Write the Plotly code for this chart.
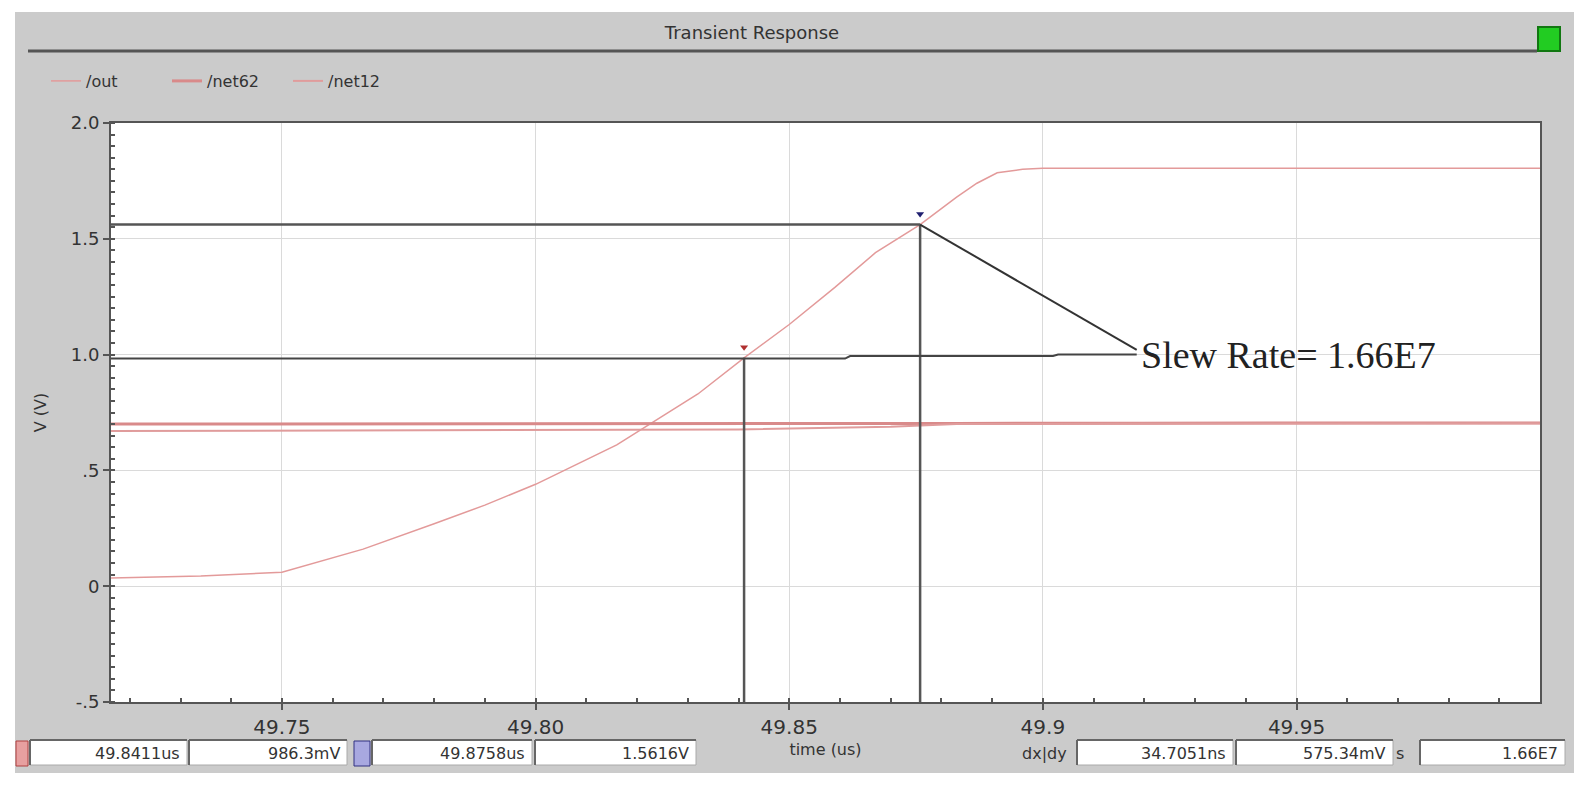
import plotly.graph_objects as go

# /out rising edge, time in us, volts
out_time = [49.7163, 49.734, 49.75, 49.766, 49.78, 49.79, 49.80, 49.816, 49.832,
            49.8411, 49.85, 49.859, 49.867, 49.8758, 49.883, 49.887, 49.891,
            49.896, 49.90, 49.95, 49.998]
out_volt = [0.035, 0.044, 0.06, 0.16, 0.27, 0.35, 0.44, 0.61, 0.83,
            0.986, 1.13, 1.29, 1.44, 1.5616, 1.68, 1.74, 1.785,
            1.80, 1.805, 1.805, 1.805]

# the two bias nodes, almost flat near 0.7 V
net_time = [49.7163, 49.78, 49.84, 49.87, 49.883, 49.92, 49.998]
net62_volt = [0.700, 0.700, 0.701, 0.702, 0.703, 0.704, 0.705]
net12_volt = [0.670, 0.672, 0.677, 0.688, 0.700, 0.702, 0.704]

# the two cursors (time us, volts)
cursor_time = [49.8411, 49.8758]
cursor_volt = [0.9863, 1.5616]

# hand drawn level line and the slew rate label
level_time = [49.7163, 49.861, 49.862, 49.902, 49.903, 49.9185]
level_volt = [0.983, 0.983, 0.994, 0.994, 1.0, 1.0]
label_time = 49.919
label_volt = 1.0
label_text = "Slew Rate= 1.66E7"

x_ticks = [49.75, 49.80, 49.85, 49.90, 49.95]
x_ticktext = ["49.75", "49.80", "49.85", "49.9", "49.95"]
y_ticks = [-0.5, 0, 0.5, 1.0, 1.5, 2.0]
y_ticktext = ["-.5", "0", ".5", "1.0", "1.5", "2.0"]

# readout boxes along the bottom
readouts = ["49.8411us", "986.3mV", "49.8758us", "1.5616V", "34.7051ns", "575.34mV", "1.66E7"]

X_MIN, X_MAX = 49.7163, 49.998
Y_MIN, Y_MAX = -0.5, 2.0

# page is 1582x787, the html body adds an 8px margin in front of the figure
OFF = 8
W, H = 1582 - OFF, 787 - OFF
L, R, T, B = 111 - OFF, 42, 123 - OFF, 85
PW, PH = W - L - R, H - T - B


# helpers: page pixel -> paper coords
def px(x):
    return (x - OFF - L) / PW


def py(y):
    return (H - B - (y - OFF)) / PH


fig = go.Figure()

fig.add_trace(go.Scatter(x=out_time, y=out_volt, mode="lines", name="/out",
                         line=dict(color="#e39a9a", width=1.5)))
fig.add_trace(go.Scatter(x=net_time, y=net62_volt, mode="lines", name="/net62",
                         line=dict(color="#d98a8a", width=3)))
fig.add_trace(go.Scatter(x=net_time, y=net12_volt, mode="lines", name="/net12",
                         line=dict(color="#e09c9c", width=2)))

cur_col = "#555555"
# horizontal line from cursor b back to the axis
fig.add_trace(go.Scatter(x=[X_MIN, cursor_time[1]], y=[cursor_volt[1], cursor_volt[1]],
                         mode="lines", line=dict(color=cur_col, width=2.5), showlegend=False))
# vertical drops of both cursors
for t, v in zip(cursor_time, cursor_volt):
    fig.add_trace(go.Scatter(x=[t, t], y=[v, Y_MIN], mode="lines",
                             line=dict(color=cur_col, width=2.5), showlegend=False))
fig.add_trace(go.Scatter(x=level_time, y=level_volt, mode="lines",
                         line=dict(color="#444444", width=2), showlegend=False))
# diagonal to the label
fig.add_trace(go.Scatter(x=[cursor_time[1], label_time - 0.0005], y=[cursor_volt[1], label_volt + 0.02],
                         mode="lines", line=dict(color="#333333", width=2), showlegend=False))
# cursor flags
fig.add_trace(go.Scatter(x=cursor_time, y=[cursor_volt[0] + 0.045, cursor_volt[1] + 0.045],
                         mode="markers", showlegend=False,
                         marker=dict(symbol="triangle-down", size=7,
                                     color=["#b03030", "#202070"])))

fig.add_annotation(x=label_time, y=label_volt, text=label_text, showarrow=False,
                   xanchor="left", yanchor="middle",
                   font=dict(family="Liberation Serif", size=38, color="#222222"))

shapes = []
# white border around the grey window
for x0, y0, x1, y1 in [(0, 0, 1582, 12), (0, 0, 15, 787), (1575, 0, 1582, 787), (0, 773, 1582, 787)]:
    shapes.append(dict(type="rect", xref="paper", yref="paper", layer="below",
                       x0=px(x0), x1=px(x1), y0=py(y1), y1=py(y0),
                       fillcolor="white", line=dict(width=0)))
# title bar rule and the green box
shapes.append(dict(type="line", xref="paper", yref="paper", x0=px(28), x1=px(1537),
                   y0=py(51), y1=py(51), line=dict(color="#555555", width=3)))
shapes.append(dict(type="rect", xref="paper", yref="paper", x0=px(1538), x1=px(1560),
                   y0=py(51), y1=py(27), fillcolor="#22cc22", line=dict(color="#117711", width=2)))

# readout boxes
boxes = [(30, 187), (189, 347), (372, 532), (535, 696), (1077, 1233), (1236, 1393), (1420, 1565)]
for (x0, x1), txt in zip(boxes, readouts):
    shapes.append(dict(type="rect", xref="paper", yref="paper", x0=px(x0), x1=px(x1),
                       y0=py(765), y1=py(740), fillcolor="white", line=dict(color="#aaaaaa", width=1)))
    shapes.append(dict(type="line", xref="paper", yref="paper", x0=px(x0), x1=px(x1),
                       y0=py(740), y1=py(740), line=dict(color="#666666", width=2)))
    shapes.append(dict(type="line", xref="paper", yref="paper", x0=px(x0), x1=px(x0),
                       y0=py(765), y1=py(740), line=dict(color="#666666", width=2)))
    fig.add_annotation(xref="paper", yref="paper", x=px(x1 - 5), y=py(753), text=txt,
                       showarrow=False, xanchor="right", yanchor="middle",
                       font=dict(size=16, color="#333333"))

# cursor icons in front of the readouts
shapes.append(dict(type="rect", xref="paper", yref="paper", x0=px(16), x1=px(28),
                   y0=py(766), y1=py(741), fillcolor="#e7a0a0", line=dict(color="#b04040", width=1)))
shapes.append(dict(type="rect", xref="paper", yref="paper", x0=px(354), x1=px(370),
                   y0=py(766), y1=py(741), fillcolor="#a8a8e0", line=dict(color="#303080", width=1)))

fig.add_annotation(xref="paper", yref="paper", x=px(1044), y=py(753), text="dx|dy",
                   showarrow=False, yanchor="middle", font=dict(size=16, color="#333333"))
fig.add_annotation(xref="paper", yref="paper", x=px(1406), y=py(753), text="s",
                   showarrow=False, yanchor="middle", font=dict(size=16, color="#333333"))

axis_common = dict(showline=True, linecolor="#555555", linewidth=2, mirror=True,
                   ticks="outside", ticklen=6, tickcolor="#555555", tickwidth=1.5,
                   showgrid=True, gridcolor="#dadada", gridwidth=1, zeroline=False,
                   automargin=False)

fig.update_layout(
    width=W, height=H,
    margin=dict(l=L, r=R, t=T, b=B, autoexpand=False),
    paper_bgcolor="#cbcbcb",
    plot_bgcolor="white",
    font=dict(family="DejaVu Sans", color="#333333"),
    title=dict(text="Transient Response", x=(752 - OFF) / W, xref="container", xanchor="center",
               y=1 - (33 - OFF) / H, yanchor="middle", font=dict(size=18, color="#333333")),
    showlegend=True,
    legend=dict(orientation="h", x=px(46), y=py(81), xanchor="left", yanchor="middle",
                bgcolor="rgba(0,0,0,0)", font=dict(size=16, color="#333333"),
                entrywidth=76, entrywidthmode="pixels", itemwidth=30),
    xaxis=dict(range=[X_MIN, X_MAX], tickvals=x_ticks, ticktext=x_ticktext,
               tickfont=dict(size=20, color="#333333"),
               title=dict(text="time (us)", font=dict(size=16, color="#333333"), standoff=6),
               minor=dict(tick0=49.75, dtick=0.01, ticks="inside", ticklen=4,
                          tickcolor="#555555", showgrid=False),
               **axis_common),
    yaxis=dict(range=[Y_MIN, Y_MAX], tickvals=y_ticks, ticktext=y_ticktext,
               tickfont=dict(size=18, color="#333333"),
               title=dict(text="V (V)", font=dict(size=16, color="#333333"), standoff=20),
               minor=dict(tick0=0, dtick=0.05, ticks="inside", ticklen=4,
                          tickcolor="#555555", showgrid=False),
               **axis_common),
    shapes=shapes,
)

fig.write_html("out.html")
